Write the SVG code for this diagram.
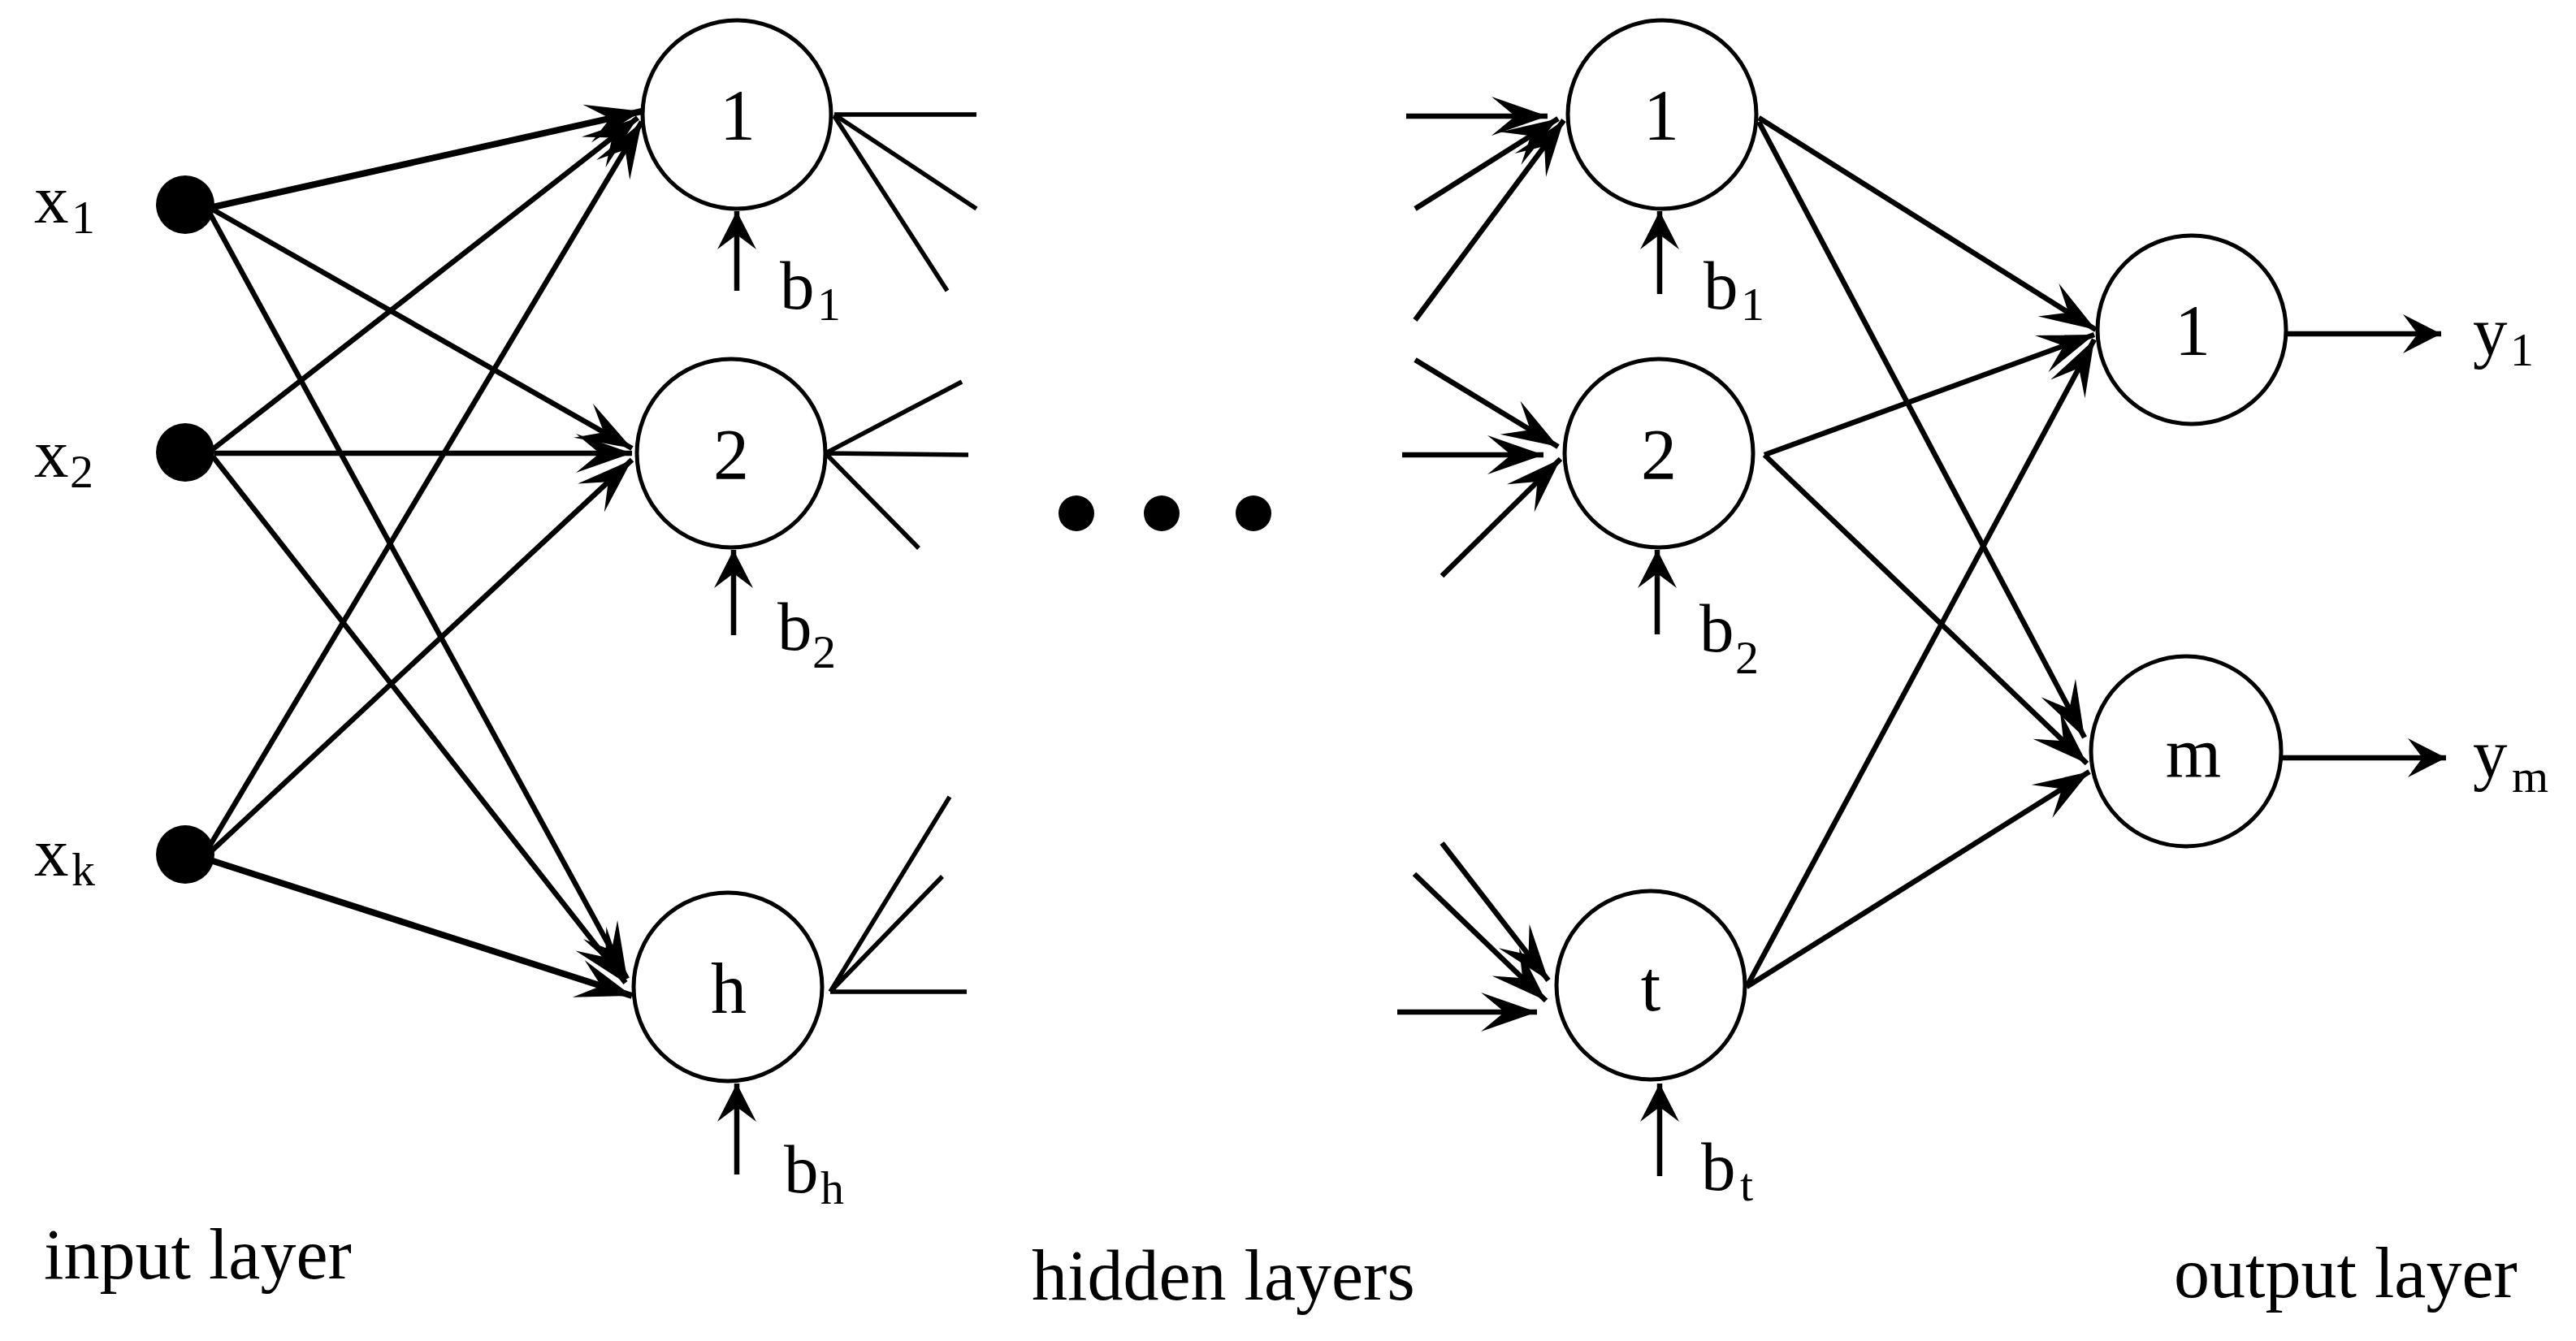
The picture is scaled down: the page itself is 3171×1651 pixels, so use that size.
<svg xmlns="http://www.w3.org/2000/svg" width="3171" height="1651" viewBox="0 0 3171 1651">
<style>
.bg{fill:#ffffff}
.node{fill:#ffffff;stroke:#000000;stroke-width:5}
.dot{fill:#000000}
.c{fill:none;stroke:#000000;stroke-width:6.5;marker-end:url(#ah)}
.s{fill:none;stroke:#000000;stroke-width:5.5}
.b{fill:none;stroke:#000000;stroke-width:6.5;marker-end:url(#ahs)}
text{font-family:"Liberation Serif","Times New Roman",serif;fill:#000000}
.lbl{font-size:85px}
.sub{font-size:58px}
.nl{font-size:88px;text-anchor:middle}
.cap{font-size:88px}
</style>
<defs>
<marker id="ah" markerUnits="userSpaceOnUse" viewBox="0 0 80 54" markerWidth="80" markerHeight="54" refX="70" refY="27" orient="auto">
<path d="M70,27 L1,3 L30,27 L1,51 Z" fill="#000000"/>
</marker>
<marker id="ahs" markerUnits="userSpaceOnUse" viewBox="0 0 52 52" markerWidth="52" markerHeight="52" refX="48" refY="26" orient="auto">
<path d="M48,26 L1,2 L19,26 L1,50 Z" fill="#000000"/>
</marker>
</defs>
<rect class="bg" x="0" y="0" width="3171" height="1651"/>
<g id="connectors">
<path class="c" style="stroke-width:8" d="M262,255 L790,137"/>
<path class="c" d="M262,258 L778,552"/>
<path class="c" d="M258,262 L772,1205"/>
<path class="c" d="M262,553 L785,145"/>
<path class="c" d="M264,558 L778,558"/>
<path class="c" d="M262,562 L770,1210"/>
<path class="c" d="M253,1050 L790,150"/>
<path class="c" d="M260,1048 L778,566"/>
<path class="c" style="stroke-width:8" d="M262,1060 L778,1226"/>
<path class="s" d="M1027,141 L1202,141 M1027,141 L1202,257 M1027,143 L1166,358"/>
<path class="s" d="M1016,558 L1184,470 M1016,558 L1192,560 M1016,558 L1131,675"/>
<path class="s" d="M1022,1221 L1169,981 M1022,1221 L1160,1079 M1022,1221 L1190,1221"/>
<path class="c" d="M1731,143 L1905,143"/>
<path class="c" d="M1742,257 L1918,146"/>
<path class="c" d="M1742,394 L1925,148"/>
<path class="c" d="M1742,443 L1918,550"/>
<path class="c" d="M1726,560 L1900,560"/>
<path class="c" d="M1775,709 L1921,565"/>
<path class="c" d="M1775,1038 L1906,1207"/>
<path class="c" d="M1741,1076 L1903,1232"/>
<path class="c" d="M1720,1246 L1892,1246"/>
<path class="c" d="M2165,145 L2580,406"/>
<path class="c" d="M2165,150 L2566,908"/>
<path class="c" d="M2172,560 L2578,412"/>
<path class="c" d="M2172,560 L2569,940"/>
<path class="c" d="M2150,1215 L2578,418"/>
<path class="c" d="M2150,1215 L2572,950"/>
<path class="b" d="M907,358 L907,260"/>
<path class="b" d="M903,782 L903,677"/>
<path class="b" d="M907,1446 L907,1334"/>
<path class="b" d="M2043,362 L2043,260"/>
<path class="b" d="M2040,781 L2040,677"/>
<path class="b" d="M2043,1448 L2043,1334"/>
<path class="b" d="M2814,411 L3005,411"/>
<path class="b" d="M2809,933 L3011,933"/>
</g>
<g id="input-x1"><circle class="dot" cx="228" cy="252" r="36"/><text class="lbl" x="42" y="274">x<tspan class="sub" x="88" y="287">1</tspan></text></g>
<g id="input-x2"><circle class="dot" cx="228" cy="557" r="36"/><text class="lbl" x="42" y="587">x<tspan class="sub" x="86" y="600">2</tspan></text></g>
<g id="input-xk"><circle class="dot" cx="228" cy="1052" r="36"/><text class="lbl" x="42" y="1078">x<tspan class="sub" x="88" y="1090">k</tspan></text></g>
<g id="h1-1"><circle class="node" cx="907" cy="141" r="116"/><text class="nl" x="908" y="171">1</text><text class="lbl" x="960" y="380">b<tspan class="sub" x="1006" y="394">1</tspan></text></g>
<g id="h1-2"><circle class="node" cx="900" cy="558" r="116"/><text class="nl" x="900" y="589">2</text><text class="lbl" x="957" y="800">b<tspan class="sub" x="1000" y="822">2</tspan></text></g>
<g id="h1-h"><circle class="node" cx="896" cy="1215" r="116"/><text class="nl" x="897" y="1247">h</text><text class="lbl" x="965" y="1468">b<tspan class="sub" x="1010" y="1482">h</tspan></text></g>
<g id="ellipsis"><circle class="dot" cx="1325" cy="632" r="22"/><circle class="dot" cx="1430" cy="632" r="22"/><circle class="dot" cx="1543" cy="632" r="22"/></g>
<g id="h2-1"><circle class="node" cx="2046" cy="141" r="116"/><text class="nl" x="2045" y="171">1</text><text class="lbl" x="2097" y="380">b<tspan class="sub" x="2143" y="394">1</tspan></text></g>
<g id="h2-2"><circle class="node" cx="2042" cy="558" r="116"/><text class="nl" x="2042" y="589">2</text><text class="lbl" x="2092" y="802">b<tspan class="sub" x="2136" y="829">2</tspan></text></g>
<g id="h2-t"><circle class="node" cx="2032" cy="1213" r="116"/><text class="nl" x="2032" y="1244">t</text><text class="lbl" x="2094" y="1465">b<tspan class="sub" x="2142" y="1478">t</tspan></text></g>
<g id="out-1"><circle class="node" cx="2698" cy="406" r="116"/><text class="nl" x="2699" y="436">1</text><text class="lbl" x="3044" y="437">y<tspan class="sub" x="3090" y="450">1</tspan></text></g>
<g id="out-m"><circle class="node" cx="2691" cy="925" r="117"/><text class="nl" x="2700" y="957">m</text><text class="lbl" x="3044" y="957">y<tspan class="sub" x="3092" y="975">m</tspan></text></g>
<g id="captions">
<text class="cap" x="54" y="1574">input layer</text>
<text class="cap" x="1270" y="1600">hidden layers</text>
<text class="cap" x="2676" y="1597">output layer</text>
</g>
</svg>
